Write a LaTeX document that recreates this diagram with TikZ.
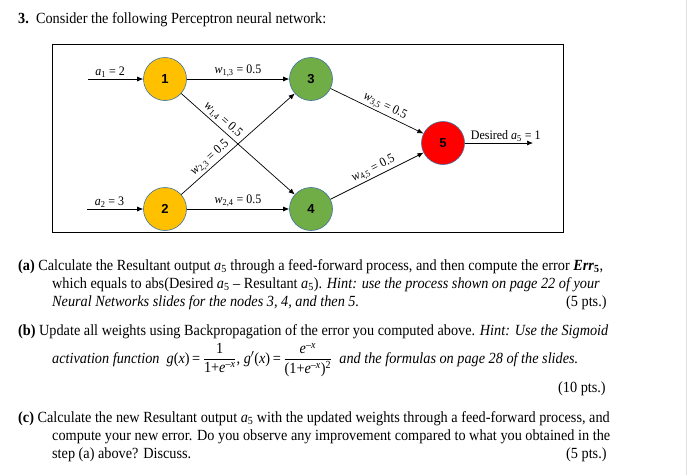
\documentclass[tikz,border=0pt]{standalone}
\usepackage{amsmath}
\usepackage{fontspec}
\setmainfont{Liberation Serif}[FakeStretch=0.92]
\newfontfamily\lblfont{Liberation Sans}
\usetikzlibrary{arrows.meta}
\definecolor{gold}{HTML}{FFC000}
\definecolor{leaf}{HTML}{70AD47}
\definecolor{edgeblue}{HTML}{41719C}
\newcommand\vsub[2]{\textit{#1}\textsubscript{#2}}
\begin{document}
\begin{tikzpicture}[x=1pt, y=-1pt, font=\fontsize{15.5}{17}\selectfont,
  neuron/.style={circle, draw=edgeblue, line width=0.6pt, minimum size=43pt, inner sep=0pt, font=\lblfont\bfseries\fontsize{13}{13}\selectfont},
  link/.style={-{Latex[length=6pt,width=5pt]}, line width=0.7pt},
  wlab/.style={font=\fontsize{13}{12}\selectfont, inner sep=1.5pt},
  txt/.style={anchor=base west, inner sep=0pt}]
\useasboundingbox (0,0) rectangle (700,475);
\fill[white] (0,0) rectangle (700,475);
\draw[gray!25, line width=1pt] (686,0) -- (686,475);

% title
\node[txt] at (18,23) {\textbf{3.}\ \ Consider the following Perceptron neural network:};

% network frame
\draw[line width=0.6pt] (52,44) rectangle (563,232);

% neurons
\node[neuron, fill=gold] (n1) at (165,79) {1};
\node[neuron, fill=gold] (n2) at (165,209) {2};
\node[neuron, fill=leaf] (n3) at (311,79) {3};
\node[neuron, fill=leaf] (n4) at (311,209) {4};
\node[neuron, fill=red] (n5) at (443,143) {5};
\coordinate (in1) at (88,79);
\coordinate (in2) at (87,209);
\coordinate (out) at (533,143);

% connections
\draw[link] (in1) -- node[above, wlab, pos=0.4] {\vsub{a}{1} = 2} (n1);
\draw[link] (in2) -- node[above, wlab, pos=0.4] {\vsub{a}{2} = 3} (n2);
\draw[link] (n1) -- node[above, wlab] {\vsub{w}{1,3} = 0.5} (n3);
\draw[link] (n2) -- node[above, wlab] {\vsub{w}{2,4} = 0.5} (n4);
\draw[link] (n1) -- node[above, sloped, wlab, pos=0.32] {\vsub{w}{1,4} = 0.5} (n4);
\draw[link] (n2) -- node[above, sloped, wlab, pos=0.3] {\vsub{w}{2,3} = 0.5} (n3);
\draw[link] (n3) -- node[above, sloped, wlab, pos=0.55] {\vsub{w}{3,5} = 0.5} (n5);
\draw[link] (n4) -- node[above, sloped, wlab, pos=0.5] {\vsub{w}{4,5} = 0.5} (n5);
\draw[link] (n5) -- node[above, wlab, pos=0.6] {Desired \vsub{a}{5} = 1} (out);

% questions
\node[txt] at (18,270) {\textbf{(a)} Calculate the Resultant output \vsub{a}{5} through a feed-forward process, and then compute the error \textbf{\textit{Err}\textsubscript{5}},};
\node[txt] at (52,288) {which equals to abs(Desired \vsub{a}{5} -- Resultant \vsub{a}{5}). \textit{Hint: use the process shown on page 22 of your}};
\node[txt] at (52,306) {\textit{Neural Networks slides for the nodes 3, 4, and then 5.}};
\node[txt] at (566,306) {(5 pts.)};
\node[txt] at (18,335) {\textbf{(b)} Update all weights using Backpropagation of the error you computed above. \textit{Hint: Use the Sigmoid}};
\node[txt] at (52,363) {\textit{activation function} \ \textit{g}(\textit{x})\,=\,$\dfrac{\text{1}}{\text{1+\textit{e}\textsuperscript{--\textit{x}}}}$, \textit{g}$'$(\textit{x})\,=\,$\dfrac{\text{\textit{e}\textsuperscript{--\textit{x}}}}{\text{(1+\textit{e}\textsuperscript{--\textit{x}})\textsuperscript{2}}}$ \ \textit{and the formulas on page 28 of the slides.}};
\node[txt] at (558,392) {(10 pts.)};
\node[txt] at (18,422) {\textbf{(c)} Calculate the new Resultant output \vsub{a}{5} with the updated weights through a feed-forward process, and};
\node[txt] at (52,440) {compute your new error. Do you observe any improvement compared to what you obtained in the};
\node[txt] at (52,458) {step (a) above? Discuss.};
\node[txt] at (566,458) {(5 pts.)};
\end{tikzpicture}
\end{document}
